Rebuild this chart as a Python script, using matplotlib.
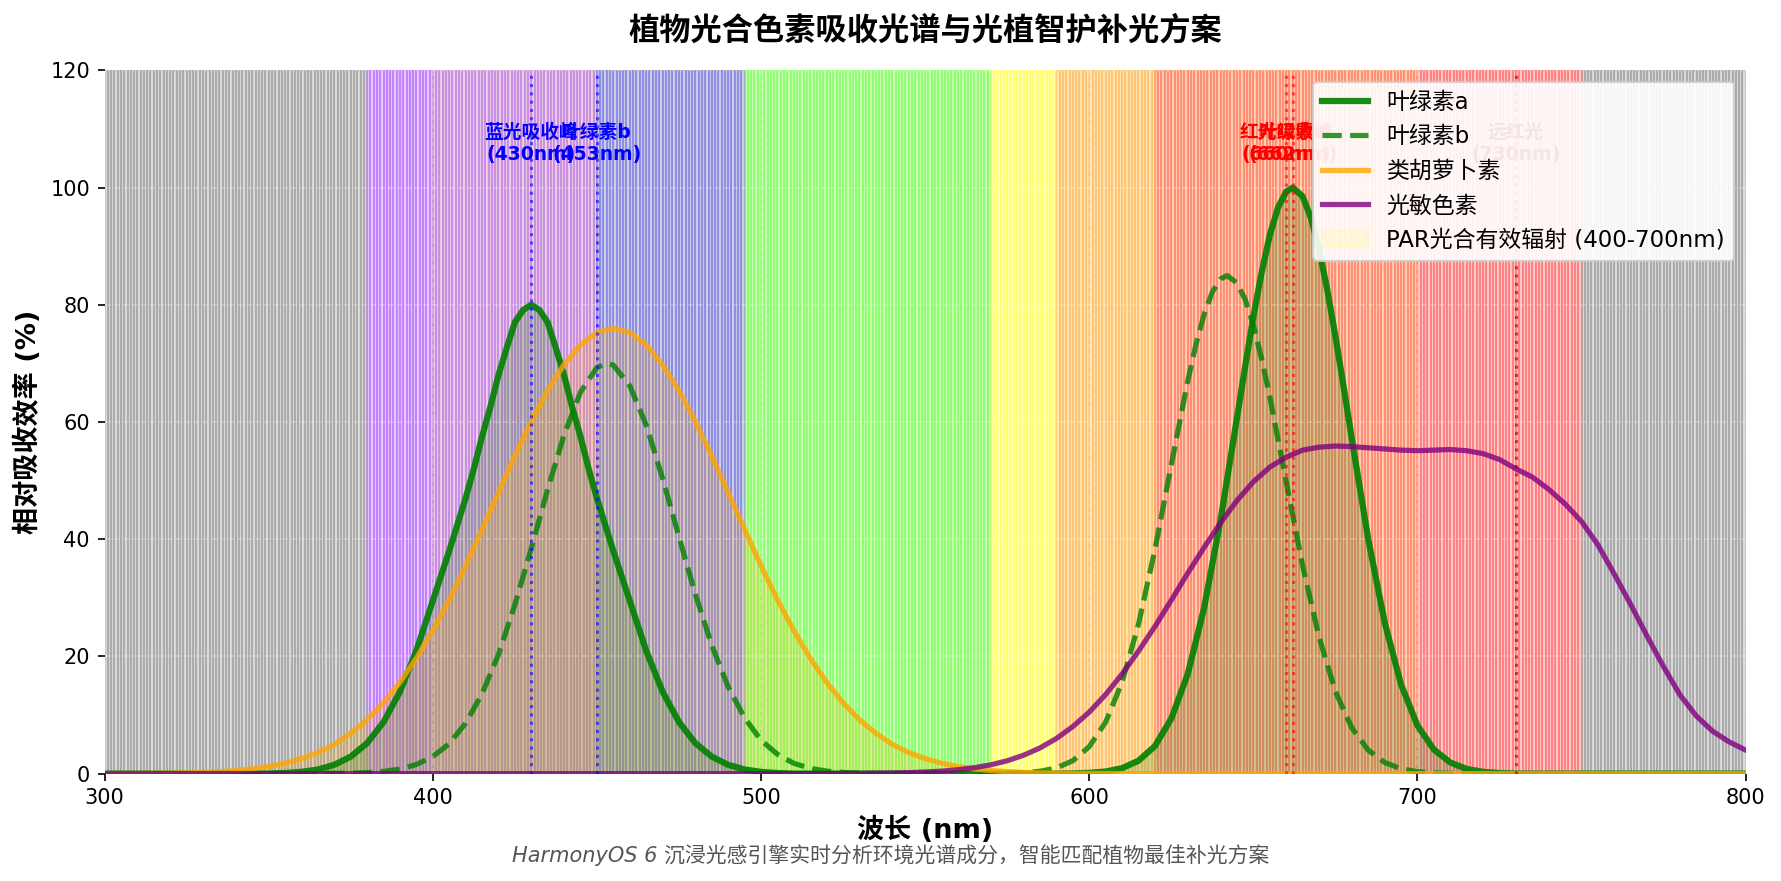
import numpy as np
import matplotlib
matplotlib.use("Agg")
import matplotlib.pyplot as plt

plt.rcParams['font.family'] = ['DejaVu Sans', 'Noto Sans CJK SC']
plt.rcParams['axes.unicode_minus'] = False

# ---------------- data ----------------
band_edges = [300, 380, 450, 495, 570, 590, 620, 750, 800]
band_colors = ['#555555', '#8B00FF', '#0000FF', '#00FF00', '#FFFF00', '#FF7F00', '#FF0000', '#555555']

chl_a_wl = [300, 350, 355, 360, 365, 370, 375, 380, 385, 390, 395, 400, 405, 410, 412.5, 415, 417.5,
            420, 422.5, 425, 427.5, 430, 432.5, 435, 437.5, 440, 442.5, 445, 447.5, 450, 455, 460,
            465, 470, 475, 480, 485, 490, 495, 500, 505, 510,
            590, 595, 600, 605, 610, 615, 620, 625, 630, 635, 640, 645, 647.5, 650, 652.5, 655,
            657.5, 660, 662, 665, 667.5, 670, 672.5, 675, 677.5, 680, 685, 690, 695, 700, 705,
            710, 715, 720, 725, 730, 800]
chl_a_val = [0, 0, 0.1, 0.3, 0.7, 1.5, 2.9, 5.2, 8.8, 14, 21, 29.5, 38, 47, 52, 57.5, 62.5,
             68, 72.6, 77, 79.1, 80, 79.1, 77, 72.6, 68, 62.5, 57.5, 52, 47, 38, 29.5,
             21, 14, 8.8, 5.2, 2.9, 1.5, 0.7, 0.3, 0.1, 0,
             0, 0.04, 0.13, 0.36, 0.93, 2.2, 4.7, 9.4, 17.0, 28.3, 43.3, 60.7, 69.5, 78.0, 85.5, 91.9,
             96.6, 99.3, 100, 98.5, 94.9, 89.5, 82.6, 74.6, 66.0, 57.1, 40.0, 25.8, 15.2, 8.2, 4.1,
             1.9, 0.8, 0.3, 0.1, 0, 0]

chl_b_wl = [300, 375, 380, 385, 390, 395, 400, 405, 410, 415, 420, 425, 430, 435, 440, 445, 450, 453,
            455, 460, 465, 470, 475, 480, 485, 490, 495, 500, 505, 510, 515, 520, 525, 530, 535,
            570, 575, 580, 585, 590, 595, 600, 605, 610, 615, 620, 625, 630, 632.5, 635, 637.5, 640, 642,
            645, 647.5, 650, 652.5, 655, 660, 665, 670, 675, 680, 685, 690, 695, 700, 705, 710, 715, 800]
chl_b_val = [0, 0.07, 0.17, 0.37, 0.78, 1.55, 2.9, 5.1, 8.6, 13.6, 20.3, 28.8, 38.4, 48.5, 57.8, 65.1, 69.3, 70,
             69.7, 66.2, 59.5, 50.4, 40.4, 30.6, 21.9, 14.8, 9.5, 5.7, 3.3, 1.75, 0.9, 0.43, 0.2, 0.08, 0,
             0.02, 0.05, 0.15, 0.4, 0.97, 2.2, 4.6, 8.8, 15.6, 25.5, 38.2, 52.7, 67.0, 73.2, 78.4, 82.2, 84.4, 85,
             83.7, 80.9, 76.5, 70.8, 64.3, 49.8, 35.5, 23.3, 14.0, 7.8, 4.0, 1.9, 0.82, 0.33, 0.12, 0.04, 0, 0]

car_wl = list(range(300, 615, 5)) + [800]
car_val = [0, 0.02, 0.03, 0.05, 0.08, 0.13, 0.2, 0.34, 0.53, 0.81, 1.21, 1.78, 2.57, 3.6, 5.0, 6.9,
           9.2, 12.1, 15.6, 19.7, 24.4, 29.7, 35.5, 41.7, 48.0, 54.2, 60.1, 65.4, 69.8, 73.2, 75.3,
           76.0, 75.3, 73.2, 69.8, 65.4, 60.1, 54.2, 48.0, 41.7, 35.5, 29.7, 24.4, 19.7, 15.6, 12.1,
           9.2, 6.9, 5.0, 3.6, 2.57, 1.78, 1.21, 0.81, 0.53, 0.34, 0.2, 0.13, 0.08, 0.05, 0.03, 0.02, 0,
           0]

phy_wl = [300] + list(range(500, 805, 5))
phy_val = [0, 0, 0, 0, 0.01, 0.01, 0.02, 0.03, 0.06, 0.1, 0.16, 0.27, 0.42, 0.66, 1.01, 1.5, 2.19,
           3.14, 4.38, 6.0, 8.03, 10.5, 13.5, 17.0, 20.9, 25.1, 29.6, 34.2, 38.6, 42.8, 46.6, 49.8,
           52.3, 54.0, 55.2, 55.7, 55.9, 55.8, 55.6, 55.4, 55.2, 55.1, 55.2, 55.3, 55.1, 54.6, 53.6,
           52.0, 50.6, 48.5, 46.0, 43.0, 39.0, 34.0, 28.8, 23.4, 18.2, 13.4, 9.8, 7.2, 5.4, 4.0]

series_labels = ['叶绿素a', '叶绿素b', '类胡萝卜素', '光敏色素']
par_range = [400, 700]
par_label = 'PAR光合有效辐射 (400-700nm)'

peak_pos = [430, 450, 660, 662, 730]
peak_labels = ['蓝光吸收峰\n(430nm)', '叶绿素b\n(453nm)', '红光吸收峰\n(660nm)', '叶绿素a\n(662nm)', '远红光\n(730nm)']
peak_colors = ['blue', 'blue', 'red', 'red', 'darkred']

title = '植物光合色素吸收光谱与光植智护补光方案'
xlabel = '波长 (nm)'
ylabel = '相对吸收效率 (%)'
caption = 'HarmonyOS 6 沉浸光感引擎实时分析环境光谱成分，智能匹配植物最佳补光方案'

# ---------------- figure ----------------
fig = plt.figure(figsize=(1781 / 150, 881 / 150), dpi=150)
ax = fig.add_axes([0.0587, 0.1219, 0.9215, 0.7982])

def band_color(w):
    for i in range(len(band_colors)):
        if band_edges[i] <= w < band_edges[i + 1]:
            return band_colors[i]
    return band_colors[-1]

for w in range(band_edges[0], band_edges[-1]):
    ax.axvspan(w, w + 1, color=band_color(w), alpha=0.2)

ax.plot(chl_a_wl, chl_a_val, color='green', lw=3, alpha=0.9, label=series_labels[0])
ax.fill_between(chl_a_wl, chl_a_val, color='green', alpha=0.2, lw=0)
ax.plot(chl_b_wl, chl_b_val, color='green', lw=2.5, ls='--', alpha=0.8, label=series_labels[1])
ax.plot(car_wl, car_val, color='orange', lw=2.5, alpha=0.8, label=series_labels[2])
ax.fill_between(car_wl, car_val, color='orange', alpha=0.2, lw=0)
ax.plot(phy_wl, phy_val, color='purple', lw=2.5, alpha=0.8, label=series_labels[3])
ax.axvspan(par_range[0], par_range[1], color='yellow', alpha=0.1, label=par_label)

for x, lab, c in zip(peak_pos, peak_labels, peak_colors):
    ax.axvline(x, color=c, ls=':', lw=1.5, alpha=0.6)
    ax.text(x, 104, lab, ha='center', va='bottom', fontsize=9, fontweight='bold', color=c)

ax.set_xlim(300, 800)
ax.set_ylim(0, 120)
ax.set_xticks([300, 400, 500, 600, 700, 800])
ax.set_yticks([0, 20, 40, 60, 80, 100, 120])
ax.grid(True, ls='--', color='white', alpha=0.25)
for s in ax.spines.values():
    s.set_visible(False)

ax.set_title(title, fontsize=15, fontweight='bold', pad=15)
ax.set_xlabel(xlabel, fontsize=13, fontweight='bold')
ax.set_ylabel(ylabel, fontsize=13, fontweight='bold')
ax.legend(loc='upper right', fontsize=11, framealpha=0.9)

fig.text(0.5, 0.0295, caption, ha='center', va='center', fontsize=10, style='italic', color='#555555')

fig.savefig('out.png', dpi=150)
